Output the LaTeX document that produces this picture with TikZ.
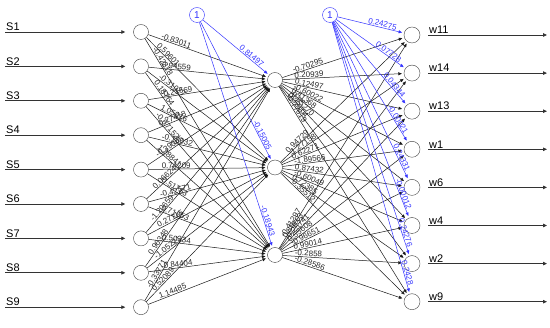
\documentclass[tikz,border=0pt]{standalone}
\usepackage{fontspec}
\setmainfont{Liberation Sans}
\usetikzlibrary{arrows.meta,calc}

\tikzset{
  unit/.style={draw=black!75, circle, minimum size=15pt, inner sep=0pt},
  biasunit/.style={draw=blue!80, circle, minimum size=15pt, inner sep=0pt, text=blue!80, font=\fontsize{10}{11}\selectfont},
  wire/.style={black!90, line width=0.5pt, -{Triangle[length=3.5pt,width=3pt]}, shorten >=2pt},
  bwire/.style={blue!80, line width=0.5pt, -{Triangle[length=3.5pt,width=3pt]}, shorten >=2pt},
  feed/.style={black!80, line width=0.8pt, -{Triangle[length=4pt,width=3.5pt]}},
  wlab/.style={sloped, anchor=south west, inner sep=0.6pt, font=\fontsize{8}{9}\selectfont, text=black!85},
  blab/.style={sloped, anchor=south east, inner sep=0.6pt, font=\fontsize{8}{9}\selectfont, text=blue!80},
  iolab/.style={anchor=south west, inner sep=1pt, font=\fontsize{11}{12}\selectfont}
}

\begin{document}
\begin{tikzpicture}[x=1pt,y=-1pt]
  \useasboundingbox (0,0) rectangle (550,328);

  % input layer
  \foreach \i in {1,...,9} {
    \node[unit] (s\i) at (141,{32+34.4*(\i-1)}) {};
    \coordinate (sin\i) at (5,{32+34.4*(\i-1)});
    \draw[feed, shorten >=8pt] (sin\i) -- (s\i);
    \node[iolab] at (sin\i) {S\i};
  }

  % hidden layer
  \node[unit] (h1) at (275,80) {};
  \node[unit] (h2) at (275,167.5) {};
  \node[unit] (h3) at (275,255) {};

  % output layer
  \foreach \j/\name in {1/w11,2/w14,3/w13,4/w1,5/w6,6/w4,7/w2,8/w9} {
    \node[unit, minimum size=16pt] (o\j) at (412,{35+38.1*(\j-1)}) {};
    \coordinate (oout\j) at (547,{35+38.1*(\j-1)});
    \draw[feed, shorten <=8pt] (o\j) -- (oout\j);
    \node[iolab] at (428,{35+38.1*(\j-1)}) {\name};
  }

  % bias units
  \node[biasunit] (b1) at (197,15) {1};
  \node[biasunit] (b2) at (330,15) {1};

  % weights input -> hidden
  \foreach \i/\j/\w in {1/1/-0.83011,1/2/0.59601,1/3/-0.42218,
      2/1/0.94559,2/2/-0.31027,2/3/0.18764,
      3/1/-0.21669,3/2/1.05916,3/3/-0.67152,
      4/1/0.27418,4/2/-0.15032,4/3/1.28841,
      5/1/-0.39085,5/2/0.74209,5/3/-0.51763,
      6/1/0.06624,6/2/-0.42571,6/3/0.71853,
      7/1/-1.20659,7/2/0.27115,7/3/0.50334,
      8/1/0.96348,8/2/-1.05221,8/3/-0.84404,
      9/1/-0.33771,9/2/0.52089,9/3/1.14485} {
    \draw[wire] (s\i) -- (h\j);
    \path ($(s\i)!20pt!(h\j)$) -- (h\j) node[wlab, pos=0] {\w};
  }

  % weights hidden -> output
  \foreach \i/\j/\w in {1/1/-0.70295,1/2/0.20939,1/3/0.12497,1/4/-0.60022,
      1/5/0.41368,1/6/-0.95270,1/7/0.33104,1/8/-0.77619,
      2/1/0.94729,2/2/-1.27158,2/3/0.62271,2/4/-1.89566,
      2/5/0.87432,2/6/-0.60049,2/7/0.72385,2/8/-0.35512,
      3/1/-0.41297,3/2/0.86103,3/3/-0.25741,3/4/0.55608,
      3/5/-0.96651,3/6/0.99014,3/7/-0.2858,3/8/-0.28586} {
    \draw[wire] (h\i) -- (o\j);
    \path ($(h\i)!19pt!(o\j)$) -- (o\j) node[wlab, pos=0] {\w};
  }

  % bias weights
  \foreach \j/\w in {1/0.81497,2/-0.15005,3/-0.18943} {
    \draw[bwire] (b1) -- (h\j);
    \path (b1) -- ($(h\j)!18pt!(b1)$) node[blab, pos=1] {\w};
  }
  \foreach \j/\w in {1/0.24275,2/0.07728,3/0.04344,4/-0.00021,
      5/0.24331,6/-0.00012,7/0.24276,8/0.2428} {
    \draw[bwire] (b2) -- (o\j);
    \path (b2) -- ($(o\j)!16pt!(b2)$) node[blab, pos=1] {\w};
  }
\end{tikzpicture}
\end{document}
